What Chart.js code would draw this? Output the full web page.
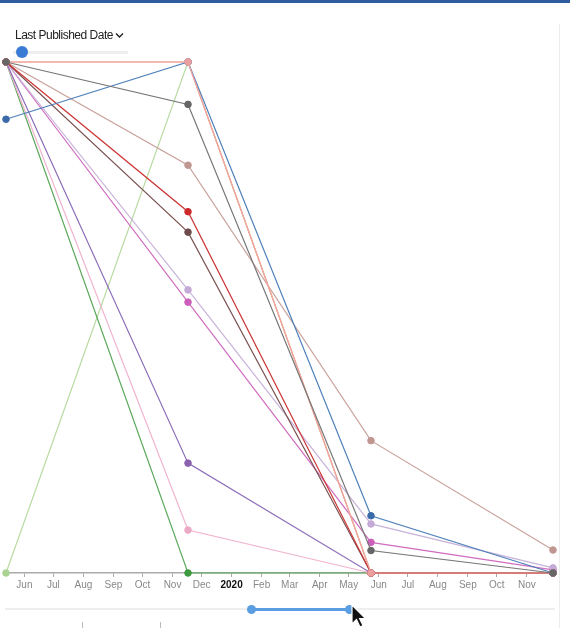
<!DOCTYPE html>
<html>
<head>
<meta charset="utf-8">
<script src="https://cdn.jsdelivr.net/npm/chart.js@4/dist/chart.umd.min.js"></script>
<style>
  html, body { margin: 0; padding: 0; background: #fff; }
  body { width: 570px; height: 628px; position: relative; overflow: hidden; font-family: "Liberation Sans", Arial, sans-serif; }
  #topbar { position: absolute; left: 0; top: 0; width: 570px; height: 3px; background: #2f5c9c; }
  #panelEdge { position: absolute; left: 559px; top: 24px; width: 1px; height: 604px; background: #ececec; }
  #chart { position: absolute; left: 0; top: 0; }
  #title { position: absolute; left: 15px; top: 28px; font-size: 12px; color: #222; letter-spacing: -0.5px; }
  #title svg { vertical-align: middle; margin-left: 2px; }
  .track { position: absolute; background: #eeeeee; }
  .knob { position: absolute; border-radius: 50%; }
</style>
</head>
<body>
<div id="topbar"></div>
<div id="panelEdge"></div>
<canvas id="chart" width="570" height="600"></canvas>
<div id="title">Last Published Date<svg width="9" height="7" viewBox="0 0 9 7"><path d="M1 1.5 L4.5 5 L8 1.5" fill="none" stroke="#222" stroke-width="1.4"/></svg></div>
<div class="track" style="left:13px;top:51px;width:115px;height:3px;"></div>
<div class="knob" style="left:16px;top:46px;width:12px;height:12px;background:#3a7bd5;"></div>
<div class="track" style="left:5px;top:608px;width:550px;height:2px;"></div>
<div style="position:absolute;left:251px;top:608px;width:98px;height:3px;background:#5b9de2;"></div>
<div class="knob" style="left:247px;top:605px;width:9px;height:9px;background:#5b9de2;"></div>
<div class="knob" style="left:345px;top:605px;width:9px;height:9px;background:#5b9de2;"></div>
<svg style="position:absolute;left:350px;top:604px" width="20" height="26" viewBox="0 0 20 26">
  <path d="M2 1 L2 20 L6.5 15.5 L10 23 L13 21.6 L9.6 14.6 L15.5 14.6 Z" fill="#111" stroke="#fff" stroke-width="1.2"/>
</svg>
<div style="position:absolute;left:82px;top:622px;width:1px;height:6px;background:#bbb;"></div>
<div style="position:absolute;left:160px;top:622px;width:1px;height:6px;background:#bbb;"></div>

<script>
const pubDates = ["2019-05-13", "2019-11-17", "2020-05-24", "2020-11-28"];
const monthNames = ["Jan", "Feb", "Mar", "Apr", "May", "Jun", "Jul", "Aug", "Sep", "Oct", "Nov", "Dec"];

const seriesNames = ["A", "B", "C", "D", "E", "F", "G", "H", "I", "J", "K", "L", "M"];
const grayVals      = [100, 91.7, 4.4, 0];
const salmonVals    = [100, 100, 0, 0];
const blueVals      = [88.8, 100, 11.2, 0];
const redVals       = [100, 70.7, 0, 0];
const brownVals     = [100, 66.7, 0, 0];
const orangeVals    = [100, 100, 0, 0];
const rosyVals      = [100, 79.8, 25.9, 4.5];
const lilacVals     = [100, 55.4, 9.6, 1.0];
const magentaVals   = [100, 53.0, 6.0, 0.6];
const purpleVals    = [100, 21.5, 0, 0];
const pinkVals      = [100, 8.4, 0, 0];
const greenVals     = [100, 0, 0, 0];
const lightGreenVals= [0, 100, 0, 0];

// first entry is drawn on top
const seriesVals = [grayVals, salmonVals, blueVals, redVals, brownVals, orangeVals,
  rosyVals, lilacVals, magentaVals, purpleVals, pinkVals, greenVals, lightGreenVals];
const lineColors = ["#777777", "#f2a3a3", "#4f81ba", "#cc3434", "#7b5252", "#f0a275",
  "#c9a19b", "#c8b3da", "#d06dc0", "#8a6cb8", "#f1b3cf", "#5aa85a", "#b9dba2"];
const pointColors = ["#666666", "#ec9f9f", "#3b6aa8", "#cc2a2a", "#6f4b4b", "#ee9a6c",
  "#c09690", "#c5a9d6", "#cc5fbb", "#8a62b0", "#eba9c6", "#3f9a3f", "#a9d293"];

const DAY = 86400000;
const toDay = s => Date.parse(s + "T00:00:00Z") / DAY;
const xDays = pubDates.map(toDay);

const datasets = seriesVals.map((vals, i) => ({
  label: seriesNames[i],
  data: vals.map((v, j) => ({ x: xDays[j], y: v })),
  borderColor: lineColors[i],
  backgroundColor: pointColors[i],
  pointBorderColor: pointColors[i],
  borderWidth: 1.2,
  pointRadius: 3.3,
  pointBorderWidth: 1,
  tension: 0,
  clip: false,
}));

new Chart(document.getElementById("chart"), {
  type: "line",
  data: { datasets },
  options: {
    responsive: false,
    animation: false,
    layout: { padding: { left: 6, right: 17, top: 62, bottom: 0 } },
    plugins: { legend: { display: false }, tooltip: { enabled: false } },
    scales: {
      x: {
        type: "linear",
        min: xDays[0],
        max: xDays[xDays.length - 1],
        afterBuildTicks: scale => {
          const ticks = [];
          let d = new Date(Date.UTC(2019, 5, 1));
          while (d.getTime() / DAY <= scale.max) {
            ticks.push({ value: d.getTime() / DAY });
            d = new Date(Date.UTC(d.getUTCFullYear(), d.getUTCMonth() + 1, 1));
          }
          scale.ticks = ticks;
        },
        afterFit: scale => { scale.height = 27; },
        grid: {
          drawOnChartArea: false,
          drawTicks: true,
          tickLength: 4,
          color: "#aaaaaa",
        },
        border: { color: "#aaaaaa", width: 1.5 },
        ticks: {
          autoSkip: false,
          maxRotation: 0,
          padding: 2,
          color: ctx => (ctx.tick && ctx.tick.label === "2020" ? "#111" : "#888"),
          font: ctx => ({
            family: "'Liberation Sans', Arial, sans-serif",
            size: 10,
            weight: ctx.tick && ctx.tick.label === "2020" ? "bold" : "normal",
          }),
          callback: v => {
            const d = new Date(v * DAY);
            return d.getUTCMonth() === 0 ? String(d.getUTCFullYear()) : monthNames[d.getUTCMonth()];
          },
        },
      },
      y: { display: false, min: 0, max: 100 },
    },
  },
});
</script>
</body>
</html>
